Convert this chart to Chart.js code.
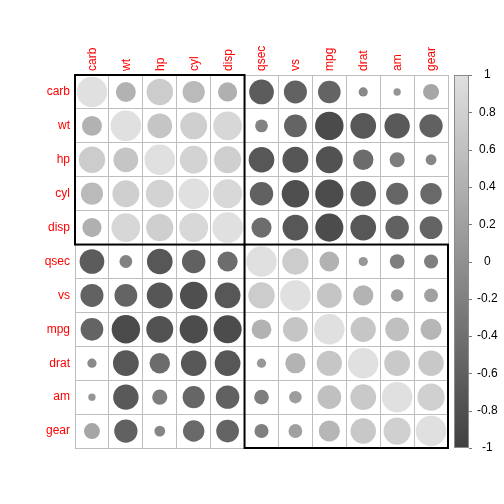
<!DOCTYPE html>
<html><head><meta charset="utf-8">
<script src="https://cdn.jsdelivr.net/npm/chart.js@4/dist/chart.umd.min.js"></script>
<style>html,body{margin:0;padding:0;background:#fff}#wrap{width:504px;height:504px}</style>
</head><body><div id="wrap"><canvas id="c" width="504" height="504"></canvas></div>
<script>
// variables in hierarchical-cluster order
const vars = ['carb','wt','hp','cyl','disp','qsec','vs','mpg','drat','am','gear'];
// correlation rows (same order as vars)
const rCarb = [ 1.000,  0.428,  0.750,  0.527,  0.395, -0.656, -0.570, -0.551, -0.091,  0.058,  0.274];
const rWt   = [ 0.428,  1.000,  0.659,  0.782,  0.888, -0.175, -0.555, -0.868, -0.712, -0.692, -0.583];
const rHp   = [ 0.750,  0.659,  1.000,  0.832,  0.791, -0.708, -0.723, -0.776, -0.449, -0.243, -0.126];
const rCyl  = [ 0.527,  0.782,  0.832,  1.000,  0.902, -0.591, -0.811, -0.852, -0.700, -0.523, -0.493];
const rDisp = [ 0.395,  0.888,  0.791,  0.902,  1.000, -0.434, -0.710, -0.848, -0.710, -0.591, -0.556];
const rQsec = [-0.656, -0.175, -0.708, -0.591, -0.434,  1.000,  0.745,  0.419,  0.091, -0.230, -0.213];
const rVs   = [-0.570, -0.555, -0.723, -0.811, -0.710,  0.745,  1.000,  0.664,  0.440,  0.168,  0.206];
const rMpg  = [-0.551, -0.868, -0.776, -0.852, -0.848,  0.419,  0.664,  1.000,  0.681,  0.600,  0.480];
const rDrat = [-0.091, -0.712, -0.449, -0.700, -0.710,  0.091,  0.440,  0.681,  1.000,  0.713,  0.700];
const rAm   = [ 0.058, -0.692, -0.243, -0.523, -0.591, -0.230,  0.168,  0.600,  0.713,  1.000,  0.794];
const rGear = [ 0.274, -0.583, -0.126, -0.493, -0.556, -0.213,  0.206,  0.480,  0.700,  0.794,  1.000];
const corrRows = [rCarb, rWt, rHp, rCyl, rDisp, rQsec, rVs, rMpg, rDrat, rAm, rGear];
// colour legend ticks
const legendTicks = [-1, -0.8, -0.6, -0.4, -0.2, 0, 0.2, 0.4, 0.6, 0.8, 1];
// cluster blocks (first index, last index)
const clusterStart = [0, 5];
const clusterEnd = [4, 10];

const LO = 64, HI = 224;
function greyFor(v) {
  const g = Math.round(LO + (v + 1) / 2 * (HI - LO));
  return `rgb(${g},${g},${g})`;
}

const points = [];
corrRows.forEach((row, i) => row.forEach((v, j) => points.push({x: vars[j], y: vars[i], v})));

const FONT = "'Liberation Sans', Arial, sans-serif";

const decor = {
  id: 'decor',
  afterDatasetsDraw(chart) {
    const ctx = chart.ctx, xs = chart.scales.x, ys = chart.scales.y, y2 = chart.scales.y2;
    const ca = chart.chartArea;
    const cw = (ca.right - ca.left) / vars.length, ch = (ca.bottom - ca.top) / vars.length;
    ctx.save();
    ctx.strokeStyle = '#000';
    ctx.lineWidth = 2;
    for (let k = 0; k < clusterStart.length; k++) {
      const x0 = xs.getPixelForValue(clusterStart[k]) - cw / 2;
      const x1 = xs.getPixelForValue(clusterEnd[k]) + cw / 2;
      const y0 = ys.getPixelForValue(clusterStart[k]) - ch / 2;
      const y1 = ys.getPixelForValue(clusterEnd[k]) + ch / 2;
      ctx.strokeRect(x0, y0, x1 - x0, y1 - y0);
    }
    // colour bar
    const top = y2.getPixelForValue(1), bot = y2.getPixelForValue(-1);
    const bx0 = ca.right + 6, bx1 = ca.right + 21;
    const grad = ctx.createLinearGradient(0, top, 0, bot);
    grad.addColorStop(0, greyFor(1));
    grad.addColorStop(1, greyFor(-1));
    ctx.fillStyle = grad;
    ctx.fillRect(bx0, top, bx1 - bx0, bot - top);
    ctx.strokeStyle = '#8a8a8a';
    ctx.lineWidth = 1;
    ctx.strokeRect(bx0 + 0.5, top + 0.5, bx1 - bx0 - 1, bot - top - 1);
    ctx.strokeStyle = '#777';
    legendTicks.forEach(t => {
      const y = Math.round(y2.getPixelForValue(t)) + 0.5;
      ctx.beginPath(); ctx.moveTo(bx1, y); ctx.lineTo(bx1 + 3, y); ctx.stroke();
    });
    ctx.restore();
  }
};

new Chart(document.getElementById('c'), {
  type: 'scatter',
  data: {
    datasets: [{
      data: points,
      showLine: false,
      pointBackgroundColor: c => (c.raw && c.raw.v !== undefined) ? greyFor(c.raw.v) : '#888',
      pointBorderWidth: 0,
      pointBorderColor: 'rgba(0,0,0,0)',
      pointRadius: c => {
        const ca = c.chart.chartArea;
        if (!ca || !c.raw) return 0;
        const cw = (ca.right - ca.left) / vars.length;
        return 0.45 * cw * Math.sqrt(Math.abs(c.raw.v));
      },
      clip: false
    }]
  },
  options: {
    responsive: false,
    animation: false,
    devicePixelRatio: 1,
    events: [],
    layout: {padding: {left: 0, right: 0, top: 0, bottom: 56}},
    plugins: {legend: {display: false}, tooltip: {enabled: false}},
    scales: {
      x: {
        type: 'category', labels: vars, position: 'top', offset: true,
        grid: {offset: true, color: '#bebebe', drawTicks: false},
        border: {display: false},
        ticks: {autoSkip: false, minRotation: 90, maxRotation: 90, padding: 4, labelOffset: 15, color: '#ff0000',
                font: {family: FONT, size: 12}},
        afterFit: s => { s.height = 75; }
      },
      y: {
        type: 'category', labels: vars, position: 'left', offset: true,
        grid: {offset: true, color: '#bebebe', drawTicks: false},
        border: {display: false},
        ticks: {autoSkip: false, padding: 5, color: '#ff0000', font: {family: FONT, size: 12}},
        afterFit: s => { s.width = 75; }
      },
      y2: {
        type: 'linear', position: 'right', min: -1, max: 1,
        grid: {display: false, drawTicks: false},
        border: {display: false},
        afterBuildTicks: s => { s.ticks = legendTicks.map(v => ({value: v})); },
        ticks: {padding: 29, crossAlign: 'center', color: '#000', font: {family: FONT, size: 12},
                callback: v => String(v)},
        afterFit: s => { s.width = 56; }
      }
    }
  },
  plugins: [decor]
});
</script>
</body></html>
